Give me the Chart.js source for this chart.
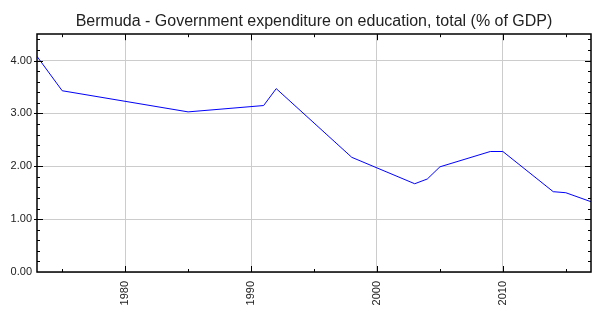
<!DOCTYPE html>
<html>
<head>
<meta charset="utf-8">
<script src="https://cdn.jsdelivr.net/npm/chart.js@4/dist/chart.umd.min.js"></script>
<style>
  html, body { margin: 0; padding: 0; background: #fff; }
  #wrap { width: 600px; height: 315px; position: relative; }
</style>
</head>
<body>
<div id="wrap"><canvas id="myChart"></canvas></div>
<script>
  // values
  const years = [1973, 1975, 1985, 1991, 1992, 1998, 2003, 2004, 2005, 2009, 2010, 2014, 2015, 2017];
  const spending = [4.08, 3.43, 3.03, 3.15, 3.47, 2.17, 1.67, 1.76, 1.99, 2.28, 2.28, 1.52, 1.50, 1.33];
  const xTicks = [1980, 1990, 2000, 2010];
  const yTicks = [0, 1, 2, 3, 4];
  const titleText = "Bermuda - Government expenditure on education, total (% of GDP)";

  const points = years.map(function (y, i) {
    return { x: y, y: spending[i] };
  });

  // frame with small inward ticks on all four sides
  const framePlugin = {
    id: "frame",
    afterDatasetsDraw: function (chart) {
      const ctx = chart.ctx;
      const a = chart.chartArea;
      const xs = chart.scales.x;
      const ys = chart.scales.y;
      ctx.save();
      ctx.strokeStyle = "#000";
      ctx.lineWidth = 1;
      ctx.beginPath();
      for (let v = 1975; v <= 2015; v += 5) {
        const px = Math.round(xs.getPixelForValue(v)) + 0.5;
        const len = v % 10 === 0 ? 6 : 3;
        ctx.moveTo(px, a.bottom); ctx.lineTo(px, a.bottom - len);
        ctx.moveTo(px, a.top); ctx.lineTo(px, a.top + len);
      }
      for (let i = 1; i <= 22; i++) {
        const v = i * 0.2;
        const py = Math.round(ys.getPixelForValue(v)) + 0.5;
        const major = i % 5 === 0;
        const len = major ? 6 : 3;
        ctx.moveTo(a.left - (major ? 3 : 0), py); ctx.lineTo(a.left + len, py);
        ctx.moveTo(a.right, py); ctx.lineTo(a.right - len, py);
      }
      ctx.stroke();
      ctx.lineWidth = 1.5;
      ctx.strokeRect(Math.round(a.left), Math.round(a.top), Math.round(a.right - a.left), Math.round(a.bottom - a.top));
      ctx.restore();
    }
  };

  const ctx = document.getElementById("myChart").getContext("2d");
  new Chart(ctx, {
    type: "line",
    data: {
      datasets: [{
        data: points,
        borderColor: "#0000ff",
        borderWidth: 1,
        pointRadius: 0,
        tension: 0,
        fill: false
      }]
    },
    options: {
      responsive: true,
      maintainAspectRatio: false,
      animation: false,
      layout: { padding: { left: 0, right: 9, top: 0, bottom: 0 } },
      plugins: {
        legend: { display: false },
        tooltip: { enabled: false },
        title: {
          display: true,
          fullSize: false,
          text: titleText,
          color: "#222",
          font: { family: "'Liberation Sans', Arial, sans-serif", size: 16, weight: "normal" },
          padding: { top: 11.5, bottom: 3.5 }
        }
      },
      scales: {
        x: {
          type: "linear",
          min: 1973,
          max: 2017,
          afterBuildTicks: function (scale) {
            scale.ticks = xTicks.map(function (v) { return { value: v }; });
          },
          afterFit: function (scale) { scale.height = 43; },
          grid: { color: "#cccccc", drawTicks: false },
          border: { display: false },
          ticks: {
            color: "#222",
            font: { family: "'Liberation Sans', Arial, sans-serif", size: 11 },
            padding: 9,
            minRotation: 90,
            maxRotation: 90,
            callback: function (v) { return String(v); }
          }
        },
        y: {
          min: 0,
          max: 4.5,
          afterBuildTicks: function (scale) {
            scale.ticks = yTicks.map(function (v) { return { value: v }; });
          },
          afterFit: function (scale) { scale.width = 37; },
          grid: { color: "#cccccc", drawTicks: false },
          border: { display: false },
          ticks: {
            color: "#222",
            font: { family: "'Liberation Sans', Arial, sans-serif", size: 11 },
            padding: 5,
            callback: function (v) { return Number(v).toFixed(2); }
          }
        }
      }
    },
    plugins: [framePlugin]
  });
</script>
</body>
</html>
